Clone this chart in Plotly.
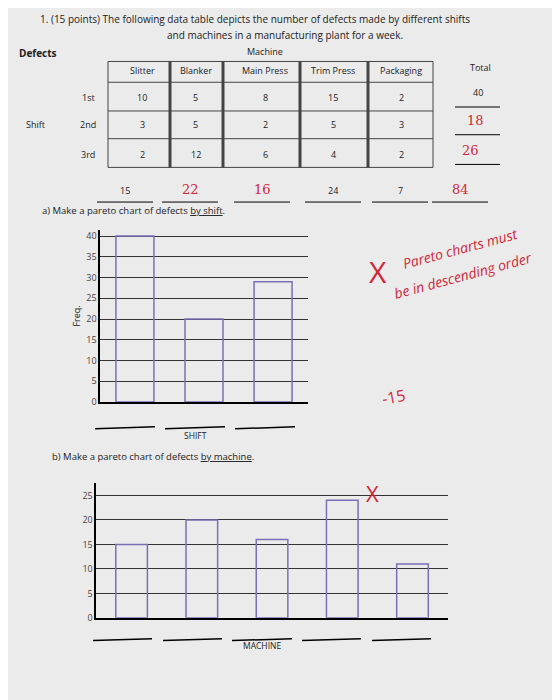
import plotly.graph_objects as go

# table data
machines = ["Slitter", "Blanker", "Main Press", "Trim Press", "Packaging"]
shifts = ["1st", "2nd", "3rd"]
defects = [[10, 5, 8, 15, 2],
           [3, 5, 2, 5, 3],
           [2, 12, 6, 4, 2]]
shift_totals = ["40", "18", "26"]
machine_totals = ["15", "22", "16", "24", "7", "84"]

# hand-drawn bars on the worksheet
shift_bars = [40, 20, 29]
machine_bars = [15, 20, 16, 24, 11]
shift_ticks = [0, 5, 10, 15, 20, 25, 30, 35, 40]
machine_ticks = [0, 5, 10, 15, 20, 25]

ink = "#7b6fb5"
red = "#d0273a"
txt = "#222222"
OFF_X = 8  # page offset in px
OFF_Y = 3

fig = go.Figure()

fig.add_trace(go.Bar(
    x=shifts, y=shift_bars, width=0.55,
    marker=dict(color="rgba(0,0,0,0)", line=dict(color=ink, width=1.5)),
    xaxis="x", yaxis="y", showlegend=False
))
fig.add_trace(go.Bar(
    x=machines, y=machine_bars, width=0.45,
    marker=dict(color="rgba(0,0,0,0)", line=dict(color=ink, width=1.5)),
    xaxis="x2", yaxis="y2", showlegend=False
))

axis_common = dict(showline=True, linecolor="black", linewidth=2, ticks="",
                   tickfont=dict(size=9, color="#444"), zeroline=False,
                   gridcolor="#333", gridwidth=1, showgrid=True)


def py(y):
    return 1 - (y - OFF_Y) / 700


fig.update_layout(
    width=560, height=700,
    margin=dict(l=0, r=0, t=0, b=0),
    paper_bgcolor="#ebebeb", plot_bgcolor="rgba(0,0,0,0)",
    font=dict(family="Open Sans", color=txt, size=10),
    xaxis=dict(domain=[0.165, 0.535], anchor="y", showticklabels=False,
               showline=True, linecolor="black", linewidth=2, showgrid=False,
               range=[-0.5, 2.5]),
    yaxis=dict(domain=[py(400), py(226)], anchor="x", range=[0, 41.5],
               tickvals=shift_ticks, title=dict(text="Freq.", font=dict(size=9), standoff=4),
               **axis_common),
    xaxis2=dict(domain=[0.158, 0.785], anchor="y2", showticklabels=False,
                showline=True, linecolor="black", linewidth=2, showgrid=False,
                range=[-0.5, 4.5]),
    yaxis2=dict(domain=[py(618), py(482)], anchor="x2", range=[0, 27.5],
                tickvals=machine_ticks, **axis_common),
)

ann = []
shapes = []


def px(x, y, text, size=10, color=txt, xanchor="center", **kw):
    ann.append(dict(x=(x - OFF_X) / 560, y=py(y), xref="paper", yref="paper",
                    text=text, showarrow=False, xanchor=xanchor, yanchor="middle",
                    font=dict(size=size, color=color), **kw))


def line(x0, y0, x1, y1, color="black", width=1):
    shapes.append(dict(type="line", xref="paper", yref="paper",
                       x0=(x0 - OFF_X) / 560, y0=py(y0), x1=(x1 - OFF_X) / 560, y1=py(y1),
                       line=dict(color=color, width=width)))


px(38, 13, "1. (15 points) The following data table depicts the number of defects made by different shifts",
   size=10, xanchor="left")
px(285, 29, "and machines in a manufacturing plant for a week.", size=10)
px(38, 47, "<b>Defects</b>", size=10)
px(265, 46, "Machine", size=9)
px(35, 120, "Shift", size=9)

col_x = [142, 196, 265, 333, 401]
row_y = [92, 120, 150]
for i, m in enumerate(machines):
    px(col_x[i], 65, m, size=9)
px(480, 62, "Total", size=9)

# table grid
shapes.append(dict(type="rect", xref="paper", yref="paper",
                   x0=(108 - OFF_X) / 560, x1=(433 - OFF_X) / 560, y0=py(163), y1=py(56),
                   line=dict(color="#444", width=1)))
for xb in [170, 223, 300, 368]:
    line(xb, 56, xb, 163, "#444", 3)
for yb in [77, 106, 134]:
    line(108, yb, 433, yb, "#444", 1)

for r, s in enumerate(shifts):
    px(88, row_y[r], s, size=9)
    for c in range(len(machines)):
        px(col_x[c], row_y[r], str(defects[r][c]), size=9)
    line(455, row_y[r] + 10, 500, row_y[r] + 10, "black", 1)
px(478, 87, shift_totals[0], size=9)
px(475, 116, shift_totals[1], size=13, color=red, font_family="DejaVu Serif")
px(470, 146, shift_totals[2], size=13, color=red, font_family="DejaVu Serif")

tot_x = [125, 190, 262, 333, 400, 460]
for i, t in enumerate(machine_totals):
    hand = i in (1, 2, 5)
    if hand:
        px(tot_x[i], 185, t, size=13, color=red, font_family="DejaVu Serif")
    else:
        px(tot_x[i], 186, t, size=9)
    line(tot_x[i] - 28, 198, tot_x[i] + 28, 198, "black", 1)

px(40, 207, "a) Make a pareto chart of defects <u>by shift</u>.", size=9.5, xanchor="left")
px(50, 455, "b) Make a pareto chart of defects <u>by machine</u>.", size=9.5, xanchor="left")

for xs in [(95, 155), (165, 225), (235, 295)]:
    line(xs[0], 427, xs[1], 425, "black", 1.5)
px(196, 434, "SHIFT", size=8.5)
for xs in [(93, 152), (163, 222), (232, 292), (302, 361), (372, 431)]:
    line(xs[0], 641, xs[1], 639, "black", 1.5)
px(262, 646, "MACHINE", size=8.5)

# red handwritten notes
px(378, 268, "X", size=30, color=red)
px(460, 245, "<i>Pareto charts must</i>", size=14, color=red, textangle=-15)
px(462, 272, "<i>be in descending order</i>", size=14, color=red, textangle=-15)
px(393, 395, "-15", size=16, color=red, textangle=-10)
px(372, 492, "X", size=22, color=red)

fig.update_layout(annotations=ann, shapes=shapes)

fig.write_html("out.html")
